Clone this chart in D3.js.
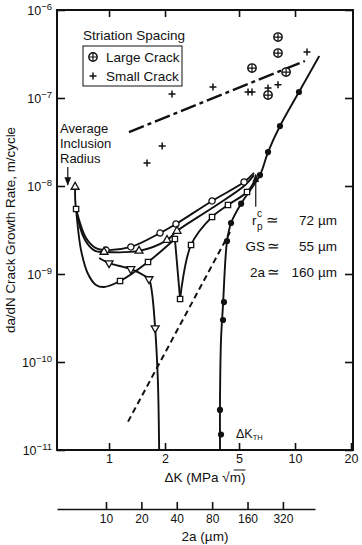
<!DOCTYPE html>
<html>
<head>
<meta charset="utf-8">
<script src="https://cdnjs.cloudflare.com/ajax/libs/d3/7.8.5/d3.min.js"></script>
<style>
body { margin: 0; background: #fff; }
text { font-family: "Liberation Sans", Arial, sans-serif; fill: #111; }
</style>
</head>
<body>
<div id="root"></div>
<script>
// ---- data (ΔK in MPa√m, da/dN in m/cycle) ----
var xTicks = [1, 2, 5, 10, 20]
var yTicks = [1e-11, 1e-10, 1e-9, 1e-8, 1e-7, 1e-6]
var yTickExp = ['−11', '−10', '−9', '−8', '−7', '−6']
var aTicks = [10, 20, 40, 80, 160, 320]

// small crack, open circles
var circLine = [[0.665, 5.48e-9], [0.752, 2.57e-9], [0.851, 1.97e-9], [0.963, 1.87e-9], [1.31, 2.03e-9],
    [1.88, 2.92e-9], [2.29, 3.7e-9], [3.58, 6.76e-9], [5.32, 1.11e-8], [6.02, 1.41e-8]]
var circPts = [[0.963, 1.87e-9], [1.31, 2.03e-9], [1.88, 2.92e-9], [2.29, 3.7e-9], [3.58, 6.76e-9], [5.32, 1.11e-8]]
// small crack, open triangles
var triLine = [[0.657, 9.75e-9], [0.665, 5.48e-9], [0.743, 2.43e-9], [0.841, 1.83e-9], [0.94, 1.78e-9], [1.45, 1.83e-9],
    [2.05, 2.43e-9], [2.32, 3.08e-9], [3.58, 5.62e-9], [5.32, 1.0e-8], [6.02, 1.33e-8]]
var triPts = [[0.657, 9.75e-9], [0.94, 1.78e-9], [1.45, 1.83e-9], [2.05, 2.43e-9], [2.32, 3.08e-9]]
// small crack, open squares (three pieces)
var sqLineA = [[0.665, 5.48e-9], [0.707, 1.87e-9], [0.771, 1.0e-9], [0.851, 7.5e-10], [0.94, 7.11e-10],
    [1.146, 8.32e-10], [1.62, 1.37e-9], [2.26, 2.5e-9]]
var sqLineB = [[2.26, 2.5e-9], [2.41, 5.2e-10]]
var sqLineC = [[2.41, 5.2e-10], [2.76, 2.14e-9], [3.58, 4.45e-9], [4.36, 6.08e-9], [5.52, 8.55e-9], [6.17, 1.23e-8]]
var sqPts = [[0.665, 5.48e-9], [1.146, 8.32e-10], [1.62, 1.37e-9], [2.26, 2.5e-9], [2.41, 5.2e-10],
    [2.76, 2.14e-9], [3.58, 4.45e-9], [4.36, 6.08e-9], [5.52, 8.55e-9]]
// small crack, inverted triangles
var invLine = [[0.884, 1.52e-9], [1.0, 1.33e-9], [1.31, 1.14e-9], [1.56, 9.5e-10], [1.64, 8.77e-10],
    [1.70, 6.24e-10], [1.77, 2.43e-10], [1.83, 6.24e-11], [1.86, 1e-11]]
var invPts = [[1.0, 1.33e-9], [1.31, 1.14e-9], [1.64, 8.77e-10], [1.77, 2.43e-10]]
// large crack, filled circles
var largeLine = [[3.95, 1e-11], [3.95, 3.7e-11], [4.0, 1.78e-10], [4.1, 4.45e-10], [4.31, 2.37e-9], [4.53, 3.8e-9],
    [5.13, 6.3e-9], [6.48, 1.33e-8], [7.16, 2.43e-8], [8.3, 4.8e-8], [10.5, 1.17e-7], [13.5, 3.0e-7]]
var largePts = [[4.0, 1.5e-11], [3.95, 2.85e-11], [4.1, 3.0e-10], [4.15, 4.8e-10], [4.31, 2.37e-9], [4.53, 3.8e-9],
    [5.13, 6.3e-9], [6.48, 1.33e-8], [7.16, 2.43e-8], [8.3, 4.8e-8], [10.5, 1.17e-7]]
// extrapolation (dashed) and striation trend (dash-dot)
var dashLine = [[1.265, 2.1e-11], [4.47, 3.0e-9]]
var striLine = [[1.28, 4.1e-8], [11.3, 2.63e-7]]
// striation spacing
var striLarge = [[8.1, 4.93e-7], [8.1, 3.24e-7], [5.87, 2.19e-7], [8.95, 1.97e-7], [7.16, 1.08e-7]]
var striSmall = [[2.18, 1.11e-7], [1.93, 2.85e-8], [1.6, 1.82e-8], [3.62, 1.33e-7], [5.59, 1.17e-7],
    [5.87, 1.17e-7], [7.16, 1.3e-7], [8.1, 1.41e-7], [11.6, 3.33e-7]]

var notes = [['GS', '55'], ['2a', '160']]

window.onload = function () {
    var width = 362, height = 545
    var svg = d3.select('#root').append('svg')
        .attr('width', width)
        .attr('height', height)

    var L = 57, R = 353, T = 10, B = 450

    var x = d3.scaleLog().domain([0.525, 20.5]).range([L, R])
    var y = d3.scaleLog().domain([1e-11, 1e-6]).range([B, T])
    var a2 = d3.scaleLog().domain([3.83, 600]).range([L, 315])

    var defs = svg.append('defs')
    defs.append('marker').attr('id', 'ah')
        .attr('viewBox', '0 0 10 10').attr('refX', 9).attr('refY', 5)
        .attr('markerWidth', 7).attr('markerHeight', 7).attr('orient', 'auto')
        .append('path').attr('d', 'M0,1L10,5L0,9Z').attr('fill', '#111')

    // frame
    svg.append('rect').attr('x', L).attr('y', T).attr('width', R - L).attr('height', B - T)
        .attr('fill', 'none').attr('stroke', '#111').attr('stroke-width', 2)

    // axes
    var xb = svg.append('g').attr('transform', 'translate(0,' + B + ')')
        .call(d3.axisBottom(x).tickValues(xTicks).tickSizeInner(-7).tickSizeOuter(0).tickPadding(4.5)
            .tickFormat(d3.format('d')))
    var xt = svg.append('g').attr('transform', 'translate(0,' + T + ')')
        .call(d3.axisTop(x).tickValues(xTicks.slice(0, 4)).tickSizeInner(-7).tickSizeOuter(0).tickFormat(''))
    var yl = svg.append('g').attr('transform', 'translate(' + L + ',0)')
        .call(d3.axisLeft(y).tickValues(yTicks).tickSizeInner(-8).tickSizeOuter(0).tickPadding(5).tickFormat(''))
    var yr = svg.append('g').attr('transform', 'translate(' + R + ',0)')
        .call(d3.axisRight(y).tickValues(yTicks).tickSizeInner(-8).tickSizeOuter(0).tickFormat(''))
    ;[xb, xt, yl, yr].forEach(function (g) {
        g.select('.domain').remove()
        g.selectAll('line').attr('stroke', '#111').attr('stroke-width', 1.6)
    })
    xb.selectAll('text').style('font-size', '12.5px').attr('fill', '#111')
    yl.selectAll('g.tick text').each(function (d, i) {
        var t = d3.select(this).attr('fill', '#111').style('font-size', '12.5px')
        t.append('tspan').text('10')
        t.append('tspan').attr('dy', '-0.45em').style('font-size', '9.5px').text(yTickExp[i])
    })

    // 2a axis
    var ab = svg.append('g').attr('transform', 'translate(0,509)')
        .call(d3.axisBottom(a2).tickValues(aTicks).tickSizeInner(-7).tickSizeOuter(0).tickPadding(5.5)
            .tickFormat(d3.format('d')))
    ab.selectAll('path, line').attr('stroke', '#111').attr('stroke-width', 1.6)
    ab.selectAll('text').style('font-size', '12px').attr('fill', '#111')

    // titles
    var xtTitle = svg.append('text').attr('x', 205).attr('y', 482).attr('text-anchor', 'middle')
        .style('font-size', '13.5px').text('ΔK (MPa √m)')
    var tn = xtTitle.node()
    var s = tn.getStartPositionOfChar(9), e = tn.getEndPositionOfChar(10)
    svg.append('line').attr('x1', s.x + 4).attr('x2', e.x).attr('y1', 470).attr('y2', 470)
        .attr('stroke', '#111').attr('stroke-width', 1)
    svg.append('text').attr('x', 205).attr('y', 541).attr('text-anchor', 'middle')
        .style('font-size', '13.5px').text('2a (µm)')
    svg.append('text').attr('transform', 'translate(15,230) rotate(-90)').attr('text-anchor', 'middle')
        .style('font-size', '13.4px').text('da/dN Crack Growth Rate, m/cycle')

    // curves
    var line = d3.line().x(function (d) { return x(d[0]) }).y(function (d) { return y(d[1]) })
        .curve(d3.curveCatmullRom.alpha(0.5))
    var curves = svg.append('g').attr('fill', 'none').attr('stroke', '#111').attr('stroke-width', 1.9)
    ;[circLine, triLine, sqLineA, sqLineB, sqLineC, invLine, largeLine].forEach(function (c) {
        curves.append('path').attr('d', line(c))
    })
    curves.append('path').attr('d', line(dashLine)).attr('stroke-width', 2).attr('stroke-dasharray', '6,4')
    curves.append('path').attr('d', line(striLine)).attr('stroke-width', 2.3).attr('stroke-dasharray', '16,4,4,4')

    // markers
    function marks(pts, draw) {
        var g = svg.append('g')
        pts.forEach(function (p) {
            draw(g.append('g').attr('transform', 'translate(' + x(p[0]) + ',' + y(p[1]) + ')'))
        })
    }
    var sym = d3.symbol()
    function open(gg) { return gg.attr('fill', '#fff').attr('stroke', '#111').attr('stroke-width', 1.3) }
    function oplus(g) {
        g.append('circle').attr('r', 4.2).attr('fill', '#fff').attr('stroke', '#111').attr('stroke-width', 1.4)
        g.append('path').attr('d', 'M-4,0H4M0,-4V4').attr('stroke', '#111').attr('stroke-width', 1.2)
    }
    function plus(g) {
        g.append('path').attr('d', 'M-3.5,0H3.5M0,-3.5V3.5').attr('stroke', '#111').attr('stroke-width', 1.5)
    }
    marks(circPts, function (g) { open(g.append('circle').attr('r', 3.1)) })
    marks(triPts, function (g) { open(g.append('path').attr('d', sym.type(d3.symbolTriangle).size(27)())) })
    marks(sqPts, function (g) { open(g.append('path').attr('d', sym.type(d3.symbolSquare).size(28)())) })
    marks(invPts, function (g) {
        open(g.append('path').attr('transform', 'rotate(180)').attr('d', sym.type(d3.symbolTriangle).size(27)()))
    })
    marks(largePts, function (g) { g.append('circle').attr('r', 3.1).attr('fill', '#111') })
    marks(striLarge, oplus)
    marks(striSmall, plus)

    // legend
    svg.append('text').attr('x', 83).attr('y', 40).style('font-size', '13.5px').text('Striation Spacing')
    svg.append('rect').attr('x', 83).attr('y', 46).attr('width', 99).attr('height', 40)
        .attr('fill', 'none').attr('stroke', '#111').attr('stroke-width', 1)
    oplus(svg.append('g').attr('transform', 'translate(93,57)'))
    plus(svg.append('g').attr('transform', 'translate(93,76)'))
    svg.append('text').attr('x', 106).attr('y', 62).style('font-size', '13.5px').text('Large Crack')
    svg.append('text').attr('x', 106).attr('y', 81).style('font-size', '13.5px').text('Small Crack')

    // annotations
    var av = svg.append('g').style('font-size', '13px')
    ;['Average', 'Inclusion', 'Radius'].forEach(function (t, i) {
        av.append('text').attr('x', 60).attr('y', 133 + i * 15).text(t)
    })
    svg.append('line').attr('x1', x(0.6)).attr('x2', x(0.6)).attr('y1', y(1.64e-8)).attr('y2', y(1.03e-8))
        .attr('stroke', '#111').attr('stroke-width', 1.2).attr('marker-end', 'url(#ah)')
    svg.append('line').attr('x1', x(6.15)).attr('x2', x(6.15)).attr('y1', y(5.8e-9)).attr('y2', y(1.35e-8))
        .attr('stroke', '#111').attr('stroke-width', 1.2).attr('marker-end', 'url(#ah)')

    var nt = svg.append('g').style('font-size', '13.5px')
    nt.append('text').attr('x', 252).attr('y', 225).text('r')
    nt.append('text').attr('x', 257).attr('y', 217).style('font-size', '10px').text('c')
    nt.append('text').attr('x', 257).attr('y', 230).style('font-size', '10px').text('p')
    nt.append('text').attr('x', 272).attr('y', 225).attr('text-anchor', 'middle').style('font-size', '15px').text('≃')
    nt.append('text').attr('x', 314).attr('y', 225).attr('text-anchor', 'end').text('72')
    nt.append('text').attr('x', 318).attr('y', 225).text('µm')
    notes.forEach(function (n, i) {
        var yy = 251 + i * 26
        nt.append('text').attr('x', 265).attr('y', yy).attr('text-anchor', 'end').text(n[0])
        nt.append('text').attr('x', 273).attr('y', yy).attr('text-anchor', 'middle').style('font-size', '15px').text('≃')
        nt.append('text').attr('x', 314).attr('y', yy).attr('text-anchor', 'end').text(n[1])
        nt.append('text').attr('x', 318).attr('y', yy).text('µm')
    })
    var th = svg.append('text').attr('x', 236).attr('y', 438).style('font-size', '12.5px')
    th.append('tspan').text('ΔK')
    th.append('tspan').attr('dy', 1.5).style('font-size', '7.5px').text('TH')
}
</script>
</body>
</html>
